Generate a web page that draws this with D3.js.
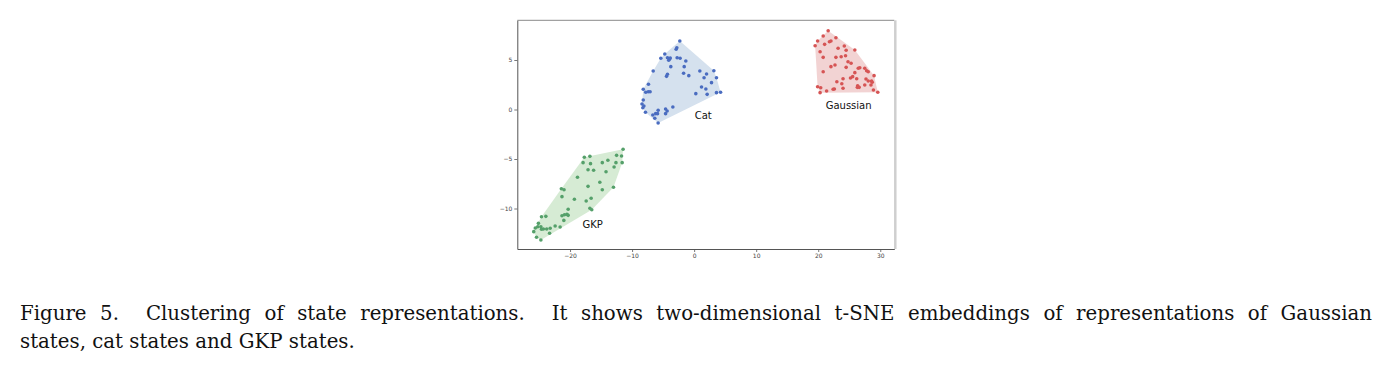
<!DOCTYPE html>
<html>
<head>
<meta charset="utf-8">
<script src="https://cdn.jsdelivr.net/npm/d3@7"></script>
<style>
  html, body { margin: 0; padding: 0; background: #fff; }
  svg { display: block; }
</style>
</head>
<body>
<svg id="chart" width="1382" height="368"></svg>
<script>
// ---- data (t-SNE coordinates) ----
const catPoints = [
  [-2.31,6.92],[-2.79,6.24],[-2.9,6.08],[-4.73,5.61],[-5.37,5.17],[-4.3,5.23],[-3.95,5.1],[-4.1,4.97],[-3.85,5.2],
  [-2.74,5.23],[-2.26,5.17],[-1.34,4.9],[-1.6,4.33],[-3.76,4.33],[-4.3,3.56],[-4.45,3.35],[-6.6,3.89],[-1.7,3.66],
  [-0.86,3.42],[-7.36,2.55],[-8.2,2.04],[-7.8,1.74],[-7.4,1.8],[-7.1,1.8],[-8.2,0.96],[-8.4,0.56],[-8.1,0.35],
  [-8.27,0.18],[-7.84,-0.28],[-6.66,-0.56],[-6.2,-0.42],[-5.9,-0.42],[-5.8,-0.08],[-6.34,-0.89],[-5.8,-1.36],
  [-4.6,0.05],[-4.35,-0.15],[-4.6,-0.42],[-3.43,0.25],[0.92,3.89],[2.0,3.59],[3.18,3.92],[1.6,3.21],[3.6,3.21],
  [2.8,2.71],[1.19,2.27],[1.89,2.07],[0.27,1.6],[2.1,1.53],[3.6,1.7],[4.26,1.74]
];
const gaussianPoints = [
  [21.6,7.96],[20.8,7.42],[19.9,6.92],[19.5,6.44],[21.8,6.85],[22.05,6.92],[21.03,6.58],[22.85,7.25],[23.2,6.18],
  [24.2,6.41],[24.5,5.98],[25.9,6.01],[20.3,5.84],[20.8,5.27],[22.85,5.27],[23.7,5.33],[24.4,5.43],[24.8,4.83],
  [25.3,4.67],[22.7,4.5],[22.05,4.33],[24.5,4.26],[26.45,4.16],[26.7,4.22],[25.9,3.72],[27.5,4.16],[27.8,3.92],
  [28.06,3.82],[25.55,3.32],[25.2,3.18],[29.0,3.42],[20.8,3.82],[24.0,3.11],[26.2,3.11],[27.7,3.08],[28.06,2.88],
  [28.6,2.88],[28.7,2.75],[23.0,2.81],[23.8,2.6],[26.35,2.4],[26.6,2.24],[26.3,2.24],[27.5,2.47],[28.5,2.47],
  [19.9,2.3],[20.4,2.2],[20.3,1.7],[22.6,2.07],[22.4,2.04],[21.35,1.87],[28.9,1.97],[29.6,1.74],[24.0,2.14]
];
const gkpPoints = [
  [-11.45,-4.02],[-12.5,-4.63],[-11.7,-4.7],[-17.7,-4.83],[-16.8,-4.73],[-13.9,-5.13],[-12.6,-5.37],[-11.6,-5.37],
  [-17.9,-5.37],[-16.7,-5.47],[-14.8,-5.37],[-12.9,-5.81],[-17.1,-6.08],[-16.2,-6.14],[-14.2,-6.28],[-18.8,-6.85],
  [-15.2,-7.35],[-17.1,-7.76],[-14.8,-8.1],[-13.0,-7.86],[-19.3,-9.07],[-17.4,-9.24],[-16.6,-8.97],[-16.8,-9.98],
  [-16.5,-10.12],[-21.4,-8.0],[-20.97,-8.1],[-21.3,-8.8],[-20.3,-10.08],[-21.3,-10.73],[-20.9,-10.63],[-20.5,-10.59],
  [-20.3,-10.69],[-21.0,-11.2],[-24.6,-10.83],[-23.9,-10.79],[-25.1,-11.5],[-25.2,-11.84],[-25.6,-11.97],[-24.7,-11.84],
  [-24.3,-12.07],[-24.6,-12.1],[-23.76,-12.07],[-23.2,-12.0],[-22.4,-11.77],[-21.6,-11.87],[-23.3,-12.5],
  [-25.85,-12.34],[-25.4,-12.9],[-24.7,-13.18]
];
const clusterNames = ["Cat", "Gaussian", "GKP"];
const labelPositions = [[0.1, -0.96], [21.2, 0.05], [-18.0, -12.0]];
const xTicks = [-20, -10, 0, 10, 20, 30];
const yTicks = [-10, -5, 0, 5];
const xDomain = [-28.5, 32.26];
const yDomain = [-14.09, 9.01];
const captionLines = [
  "Figure 5.  Clustering of state representations.  It shows two-dimensional t-SNE embeddings of representations of Gaussian",
  "states, cat states and GKP states."
];

// ---- drawing ----
(function () {
const svg = d3.select("#chart");
const pL = 517.3, pR = 894.3, pT = 20.3, pB = 249;
const x = d3.scaleLinear().domain(xDomain).range([pL, pR]);
const y = d3.scaleLinear().domain(yDomain).range([pB, pT]);

const clusters = [
  {name: clusterNames[0], pts: catPoints, dot: "#4a6cc0", fill: "#d5e1ee", label: labelPositions[0]},
  {name: clusterNames[1], pts: gaussianPoints, dot: "#d65454", fill: "#f2d3d3", label: labelPositions[1]},
  {name: clusterNames[2], pts: gkpPoints, dot: "#55a06a", fill: "#d6ebd4", label: labelPositions[2]}
];

const g = svg.append("g");
clusters.forEach(c => {
  const hull = d3.polygonHull(c.pts.map(p => [x(p[0]), y(p[1])]));
  g.append("path")
    .attr("d", "M" + hull.join("L") + "Z")
    .attr("fill", c.fill)
    .attr("stroke", "none");
});
clusters.forEach(c => {
  g.selectAll(null).data(c.pts).enter().append("circle")
    .attr("cx", d => x(d[0]))
    .attr("cy", d => y(d[1]))
    .attr("r", 1.8)
    .attr("fill", c.dot);
});
clusters.forEach(c => {
  g.append("text")
    .attr("x", x(c.label[0]))
    .attr("y", y(c.label[1]))
    .attr("font-family", "DejaVu Sans")
    .attr("font-size", 10)
    .attr("fill", "#111")
    .text(c.name);
});

// frame
svg.append("line").attr("x1", pL).attr("x2", pR).attr("y1", pT).attr("y2", pT)
  .attr("stroke", "#8a8a8a").attr("stroke-width", 1);
svg.append("line").attr("x1", pR + 1).attr("x2", pR + 1).attr("y1", pT).attr("y2", pB)
  .attr("stroke", "#cfcfcf").attr("stroke-width", 2.5);

const fmt = d => d < 0 ? "\u2212" + Math.abs(d) : String(d);
const xAxis = svg.append("g").attr("transform", `translate(0,${pB})`)
  .call(d3.axisBottom(x).tickValues(xTicks).tickFormat(fmt).tickSize(3).tickPadding(2).tickSizeOuter(0));
const yAxis = svg.append("g").attr("transform", `translate(${pL},0)`)
  .call(d3.axisLeft(y).tickValues(yTicks).tickFormat(fmt).tickSize(3).tickPadding(2).tickSizeOuter(0));
[xAxis, yAxis].forEach(a => {
  a.select(".domain").attr("stroke", "#555").attr("stroke-width", 1);
  a.selectAll(".tick line").attr("stroke", "#555").attr("stroke-width", 0.8);
  a.selectAll(".tick text").attr("fill", "#444").attr("font-family", "DejaVu Sans").attr("font-size", 6);
});

// caption: size chosen so line 2 spans its natural width; line 1 justified by word spacing
const cap = svg.append("g").attr("font-family", "DejaVu Serif, Liberation Serif, serif").attr("fill", "#111");
const l2 = cap.append("text").attr("x", 20).attr("y", 348).attr("font-size", 20).text(captionLines[1]);
let fs = 20 * 335 / l2.node().getComputedTextLength();
fs = Math.max(18, Math.min(22, fs));
l2.attr("font-size", fs);
const l1 = cap.append("text").attr("x", 20).attr("y", 320).attr("font-size", fs)
  .style("white-space", "pre").text(captionLines[0]);
const nat = l1.node().getComputedTextLength();
const spaces = (captionLines[0].match(/ /g) || []).length;
if (nat < 1352) l1.style("word-spacing", ((1352 - nat) / spaces) + "px");
else l1.attr("textLength", 1352).attr("lengthAdjust", "spacingAndGlyphs");
})();
</script>
</body>
</html>
